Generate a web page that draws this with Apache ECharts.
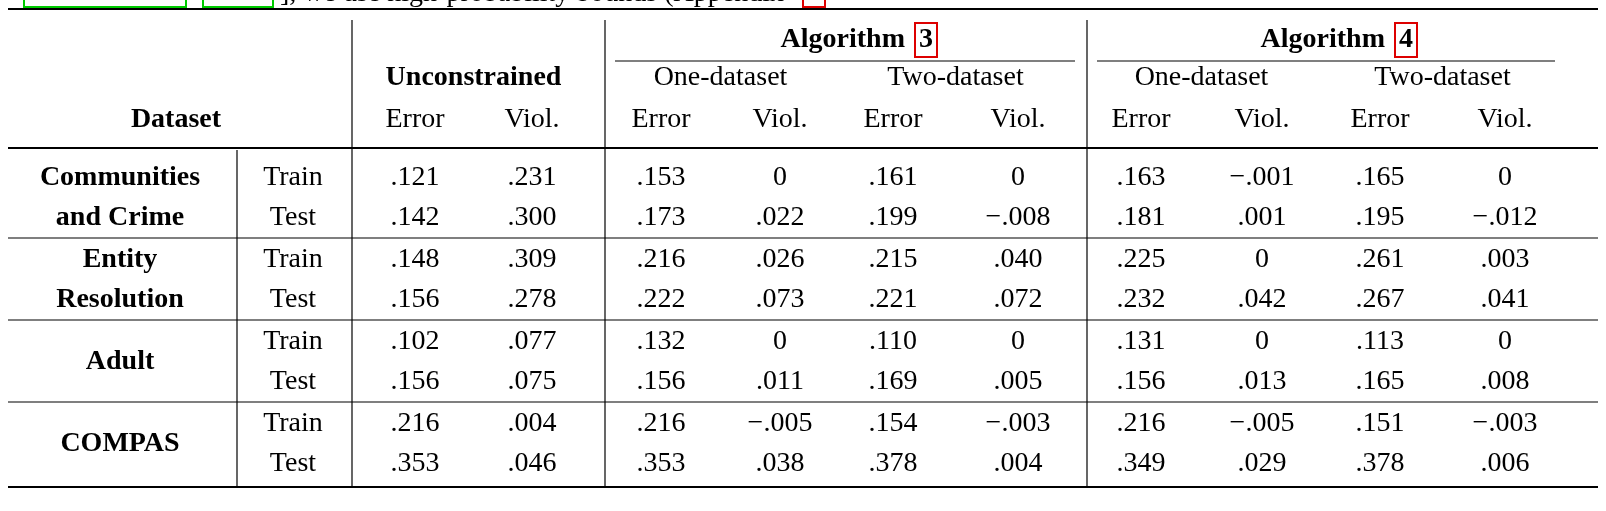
<!DOCTYPE html>
<html><head><meta charset="utf-8">
<script src="https://cdn.jsdelivr.net/npm/echarts@6/dist/echarts.min.js"></script>
<style>html,body{margin:0;background:#fff}#c{width:1606px;height:511px}</style>
</head><body><div id="c"></div>
<script>
// datos de la tabla
const datasets = [["Communities", "and Crime"], ["Entity", "Resolution"], ["Adult"], ["COMPAS"]];
const splits = ["Train", "Test"];
const groups = ["Unconstrained", "One-dataset", "Two-dataset", "One-dataset", "Two-dataset"];
const algos = ["Algorithm", "Algorithm"];
const algoRefs = ["3", "4"];
const rows = [
  [".121", ".231", ".153", "0", ".161", "0", ".163", "−.001", ".165", "0"],
  [".142", ".300", ".173", ".022", ".199", "−.008", ".181", ".001", ".195", "−.012"],
  [".148", ".309", ".216", ".026", ".215", ".040", ".225", "0", ".261", ".003"],
  [".156", ".278", ".222", ".073", ".221", ".072", ".232", ".042", ".267", ".041"],
  [".102", ".077", ".132", "0", ".110", "0", ".131", "0", ".113", "0"],
  [".156", ".075", ".156", ".011", ".169", ".005", ".156", ".013", ".165", ".008"],
  [".216", ".004", ".216", "−.005", ".154", "−.003", ".216", "−.005", ".151", "−.003"],
  [".353", ".046", ".353", ".038", ".378", ".004", ".349", ".029", ".378", ".006"]
];

const colX = [415, 532, 661, 780, 893, 1018, 1141, 1262, 1380, 1505];
const rowY = [178, 218, 260, 300, 342, 382, 424, 464];
const F = "'Liberation Serif', 'DejaVu Serif', serif";
const g = [];
const txt = (x, y, s, bold, align) => g.push({
  type: "text", x, y,
  style: { text: s, font: (bold ? "bold " : "") + "28px " + F, fill: "#000", align: align || "center", verticalAlign: "middle" }
});
const line = (x1, y1, x2, y2, w) => g.push({
  type: "line", shape: { x1, y1, x2, y2 }, style: { stroke: "#000", lineWidth: w || 1.5 }
});
const box = (x, y, w, h, c) => g.push({
  type: "rect", shape: { x, y, width: w, height: h }, style: { fill: "none", stroke: c, lineWidth: 2 }
});

// texto cortado arriba
box(24, -20, 162, 27, "#0c0");
box(203, -20, 70, 27, "#0c0");
txt(280, -6, "], we use high-probability bounds (Appendix", false, "left");
box(803, -20, 22, 27, "#d00");

// cabecera
line(8, 9, 1598, 9, 2.2);
[926, 1406].forEach((dx, i) => {
  txt(dx - 14, 40, algos[i] + " ", true, "right");
  txt(dx, 40, algoRefs[i], true);
  box(dx - 11, 23, 22, 34, "#d00");
});
line(615, 61, 1075, 61, 1.2);
line(1097, 61, 1555, 61, 1.2);
groups.forEach((s, i) => txt((colX[2 * i] + colX[2 * i + 1]) / 2, 78, s, i === 0));
colX.forEach((x, i) => txt(x, 120, i % 2 ? "Viol." : "Error"));
txt(176, 120, "Dataset", true);
line(8, 148, 1598, 148, 2.2);

// cuerpo
let r = 0;
datasets.forEach((d, di) => {
  const yc = (rowY[2 * di] + rowY[2 * di + 1]) / 2;
  if (d.length === 2) { txt(120, rowY[2 * di], d[0], true); txt(120, rowY[2 * di + 1], d[1], true); }
  else txt(120, yc, d[0], true);
  splits.forEach(s => {
    txt(293, rowY[r], s);
    rows[r].forEach((v, ci) => txt(colX[ci], rowY[r], v));
    r++;
  });
  if (di < datasets.length - 1) line(8, rowY[2 * di + 1] + 20, 1598, rowY[2 * di + 1] + 20, 1.2);
});
line(8, 487, 1598, 487, 2.2);
line(237, 150, 237, 486, 1.2);
[352, 605, 1087].forEach(x => line(x, 20, x, 486, 1.2));

const chart = echarts.init(document.getElementById("c"));
chart.setOption({ backgroundColor: "#fff", animation: false, graphic: { elements: g } });
</script></body></html>
